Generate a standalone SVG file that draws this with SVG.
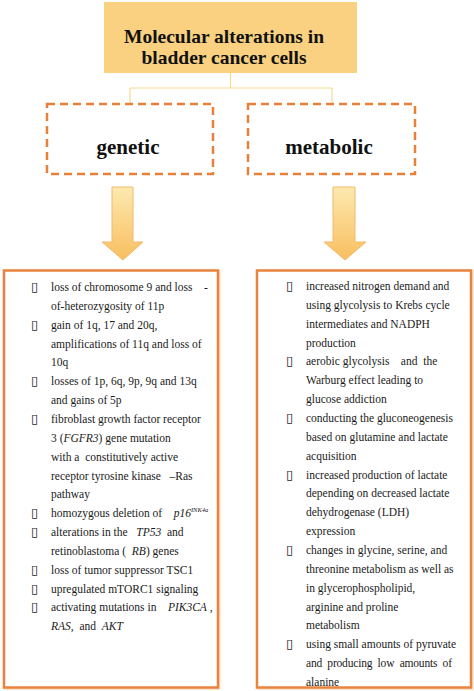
<svg xmlns="http://www.w3.org/2000/svg" width="474" height="691" viewBox="0 0 474 691">
<defs>
<linearGradient id="ag" x1="0" y1="0" x2="0" y2="1">
<stop offset="0" stop-color="#FDE9B0"/>
<stop offset="1" stop-color="#F8BE5E"/>
</linearGradient>
<filter id="sh" x="-5%" y="-5%" width="110%" height="110%">
<feGaussianBlur in="SourceAlpha" stdDeviation="1"/>
<feOffset dx="0.5" dy="1" result="b"/>
<feFlood flood-color="#F3B77A" flood-opacity="0.6"/>
<feComposite in2="b" operator="in"/>
<feMerge><feMergeNode/><feMergeNode in="SourceGraphic"/></feMerge>
</filter>
</defs>
<style>
.title{font-family:"Liberation Serif","DejaVu Serif",serif;font-weight:bold;font-size:19.5px;fill:#111;text-anchor:middle}
.head{font-family:"Liberation Serif","DejaVu Serif",serif;font-weight:bold;font-size:21px;fill:#111;text-anchor:middle}
.dash{fill:#fff;stroke:#E8803A;stroke-width:2.5;stroke-dasharray:8,5}
.list{fill:#fff;stroke:#E8843F;stroke-width:2.5}
.conn{fill:none;stroke:#F6DA8E;stroke-width:1.2}
.arrow{fill:url(#ag);stroke:#F3B96A;stroke-width:1}
.t{font-family:"Liberation Serif","DejaVu Serif",serif;font-size:11.5px;fill:#1a1a1a}
.b{font-family:"DejaVu Sans",sans-serif;font-size:13px;fill:#222}
.i{font-style:italic}
</style>
<g id="connectors">
<path class="conn" d="M230.5,73 V88 M130,88 H332 M130,88 V104 M332,88 V104"/>
<path class="arrow" d="M112,187 H133 V242 H143 L123,260 L102,242 H112 Z"/>
<path class="arrow" d="M333,187 H355 V242 H366 L345,260 L324,242 H333 Z"/>
</g>
<g id="title">
<rect x="104" y="2" width="253" height="71" fill="#F9D180"/>
<text class="title" x="224" y="43">Molecular alterations in</text>
<text class="title" x="224" y="64">bladder cancer cells</text>
</g>
<g id="genetic">
<rect class="dash" x="47" y="104" width="166" height="70"/>
<text class="head" x="128" y="154">genetic</text>
</g>
<g id="metabolic">
<rect class="dash" x="248" y="104" width="167" height="70"/>
<text class="head" x="329" y="154">metabolic</text>
</g>
<g id="genetic-list">
<rect class="list" x="4" y="270.5" width="214" height="417" filter="url(#sh)"/>
<g class="b">
<text x="31" y="291">▯</text>
<text x="31" y="328.7">▯</text>
<text x="31" y="385.2">▯</text>
<text x="31" y="422.9">▯</text>
<text x="31" y="517.2">▯</text>
<text x="31" y="536">▯</text>
<text x="31" y="573.7">▯</text>
<text x="31" y="592.6">▯</text>
<text x="31" y="611.4">▯</text>
</g>
<g class="t">
<text x="51" y="291">loss of chromosome 9 and loss&#160;&#160;&#160; -</text>
<text x="51" y="309.9">of-heterozygosity of 11p</text>
<text x="51" y="328.7">gain of 1q, 17 and 20q,</text>
<text x="51" y="347.6">amplifications of 11q and loss of</text>
<text x="51" y="366.4">10q</text>
<text x="51" y="385.2">losses of 1p, 6q, 9p, 9q and 13q</text>
<text x="51" y="404.1">and gains of 5p</text>
<text x="51" y="422.9">fibroblast growth factor receptor</text>
<text x="51" y="441.8">3 (<tspan class="i">FGFR3</tspan>) gene mutation</text>
<text x="51" y="460.6">with a&#160; constitutively active</text>
<text x="51" y="479.5">receptor tyrosine kinase&#160;&#160; –Ras</text>
<text x="51" y="498.3">pathway</text>
<text x="51" y="517.2">homozygous deletion of&#160;&#160;&#160; <tspan class="i">p16</tspan><tspan class="i" font-size="6.5" dy="-5">INK4a</tspan></text>
<text x="51" y="536">alterations in the&#160;&#160; <tspan class="i">TP53</tspan>&#160; and</text>
<text x="51" y="554.9">retinoblastoma (&#160; <tspan class="i">RB</tspan>) genes</text>
<text x="51" y="573.7">loss of tumor suppressor TSC1</text>
<text x="51" y="592.6">upregulated mTORC1 signaling</text>
<text x="51" y="611.4">activating mutations in&#160;&#160;&#160; <tspan class="i">PIK3CA</tspan> ,</text>
<text x="51" y="630.3"><tspan class="i">RAS,</tspan>&#160; and&#160; <tspan class="i">AKT</tspan></text>
</g>
</g>
<g id="metabolic-list">
<rect class="list" x="257" y="270.5" width="214" height="417" filter="url(#sh)"/>
<g class="b">
<text x="286" y="290">▯</text>
<text x="286" y="365.4">▯</text>
<text x="286" y="422">▯</text>
<text x="286" y="478.5">▯</text>
<text x="286" y="553.9">▯</text>
<text x="286" y="648.2">▯</text>
</g>
<g class="t">
<text x="306" y="290">increased nitrogen demand and</text>
<text x="306" y="308.9">using glycolysis to Krebs cycle</text>
<text x="306" y="327.7">intermediates and NADPH</text>
<text x="306" y="346.6">production</text>
<text x="306" y="365.4">aerobic glycolysis&#160;&#160;&#160; and&#160; the</text>
<text x="306" y="384.3">Warburg effect leading to</text>
<text x="306" y="403.1">glucose addiction</text>
<text x="306" y="422">conducting the gluconeogenesis</text>
<text x="306" y="440.8">based on glutamine and lactate</text>
<text x="306" y="459.7">acquisition</text>
<text x="306" y="478.5">increased production of lactate</text>
<text x="306" y="497.4">depending on decreased lactate</text>
<text x="306" y="516.2">dehydrogenase (LDH)</text>
<text x="306" y="535.1">expression</text>
<text x="306" y="553.9">changes in glycine, serine, and</text>
<text x="306" y="572.8">threonine metabolism as well as</text>
<text x="306" y="591.6">in glycerophospholipid,</text>
<text x="306" y="610.5">arginine and proline</text>
<text x="306" y="629.3">metabolism</text>
<text x="306" y="648.2">using small amounts of pyruvate</text>
<text x="306" y="667" textLength="146" lengthAdjust="spacing">and&#160; producing&#160; low&#160; amounts&#160; of</text>
<text x="306" y="685.9">alanine</text>
</g>
</g>
</svg>
